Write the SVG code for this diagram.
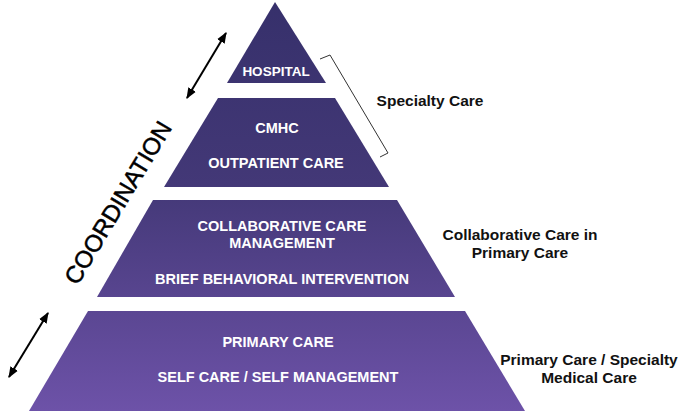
<svg xmlns="http://www.w3.org/2000/svg" width="685" height="419" viewBox="0 0 685 419">
<defs>
<linearGradient id="pyr" gradientUnits="userSpaceOnUse" x1="0" y1="0" x2="0" y2="411">
<stop offset="0" stop-color="#36306b"/>
<stop offset="0.45" stop-color="#433877"/>
<stop offset="1" stop-color="#6d52a8"/>
</linearGradient>
<marker id="ah" viewBox="0 0 10 8" refX="9" refY="4" markerWidth="11" markerHeight="9" markerUnits="userSpaceOnUse" orient="auto-start-reverse">
<path d="M0,0 L10,4 L0,8 z" fill="#000"/>
</marker>
</defs>
<style>
.tier{fill:url(#pyr);}
.in{font-family:"Liberation Sans",Arial,sans-serif;font-weight:bold;font-size:14.5px;fill:#fff;text-anchor:middle;}
.out{font-family:"Liberation Sans",Arial,sans-serif;font-weight:bold;font-size:15.5px;fill:#111;text-anchor:middle;}
.arr{stroke:#000;stroke-width:2;fill:none;marker-start:url(#ah);marker-end:url(#ah);}
.br{stroke:#333;stroke-width:1;fill:none;}
</style>
<rect width="685" height="419" fill="#fff"/>
<g id="hospital">
<polygon class="tier" points="275,2 326,83 227,83"/>
<text class="in" x="276" y="76" style="font-size:13.5px">HOSPITAL</text>
</g>
<g id="cmhc">
<polygon class="tier" points="218,98 335,98 389,187 164,187"/>
<text class="in" x="277" y="133">CMHC</text>
<text class="in" x="276" y="168">OUTPATIENT CARE</text>
</g>
<g id="collaborative">
<polygon class="tier" points="153,200 397,200 455,297 97,297"/>
<text class="in" x="282" y="231">COLLABORATIVE CARE</text>
<text class="in" x="282" y="248">MANAGEMENT</text>
<text class="in" x="282" y="284">BRIEF BEHAVIORAL INTERVENTION</text>
</g>
<g id="primary">
<polygon class="tier" points="88,311 465,311 525,411 29,411"/>
<text class="in" x="278" y="347">PRIMARY CARE</text>
<text class="in" x="278" y="382">SELF CARE / SELF MANAGEMENT</text>
</g>
<g id="label-specialty">
<text class="out" x="430" y="106">Specialty Care</text>
</g>
<g id="label-collab">
<text class="out" x="520" y="240">Collaborative Care in</text>
<text class="out" x="520" y="258">Primary Care</text>
</g>
<g id="label-primary">
<text class="out" x="589" y="365">Primary Care / Specialty</text>
<text class="out" x="589" y="383">Medical Care</text>
</g>
<g id="label-coordination">
<text x="0" y="0" transform="translate(125,207) rotate(-59)" style="font-family:'Liberation Sans',Arial,sans-serif;font-size:24px;fill:#000;stroke:#000;stroke-width:0.5;text-anchor:middle;">COORDINATION</text>
</g>
<g id="connectors">
<line class="arr" x1="187" y1="98" x2="226" y2="33"/>
<line class="arr" x1="9" y1="377" x2="48" y2="313"/>
<polyline class="br" points="320,59 330,55 388,153 380,157"/>
</g>
</svg>
